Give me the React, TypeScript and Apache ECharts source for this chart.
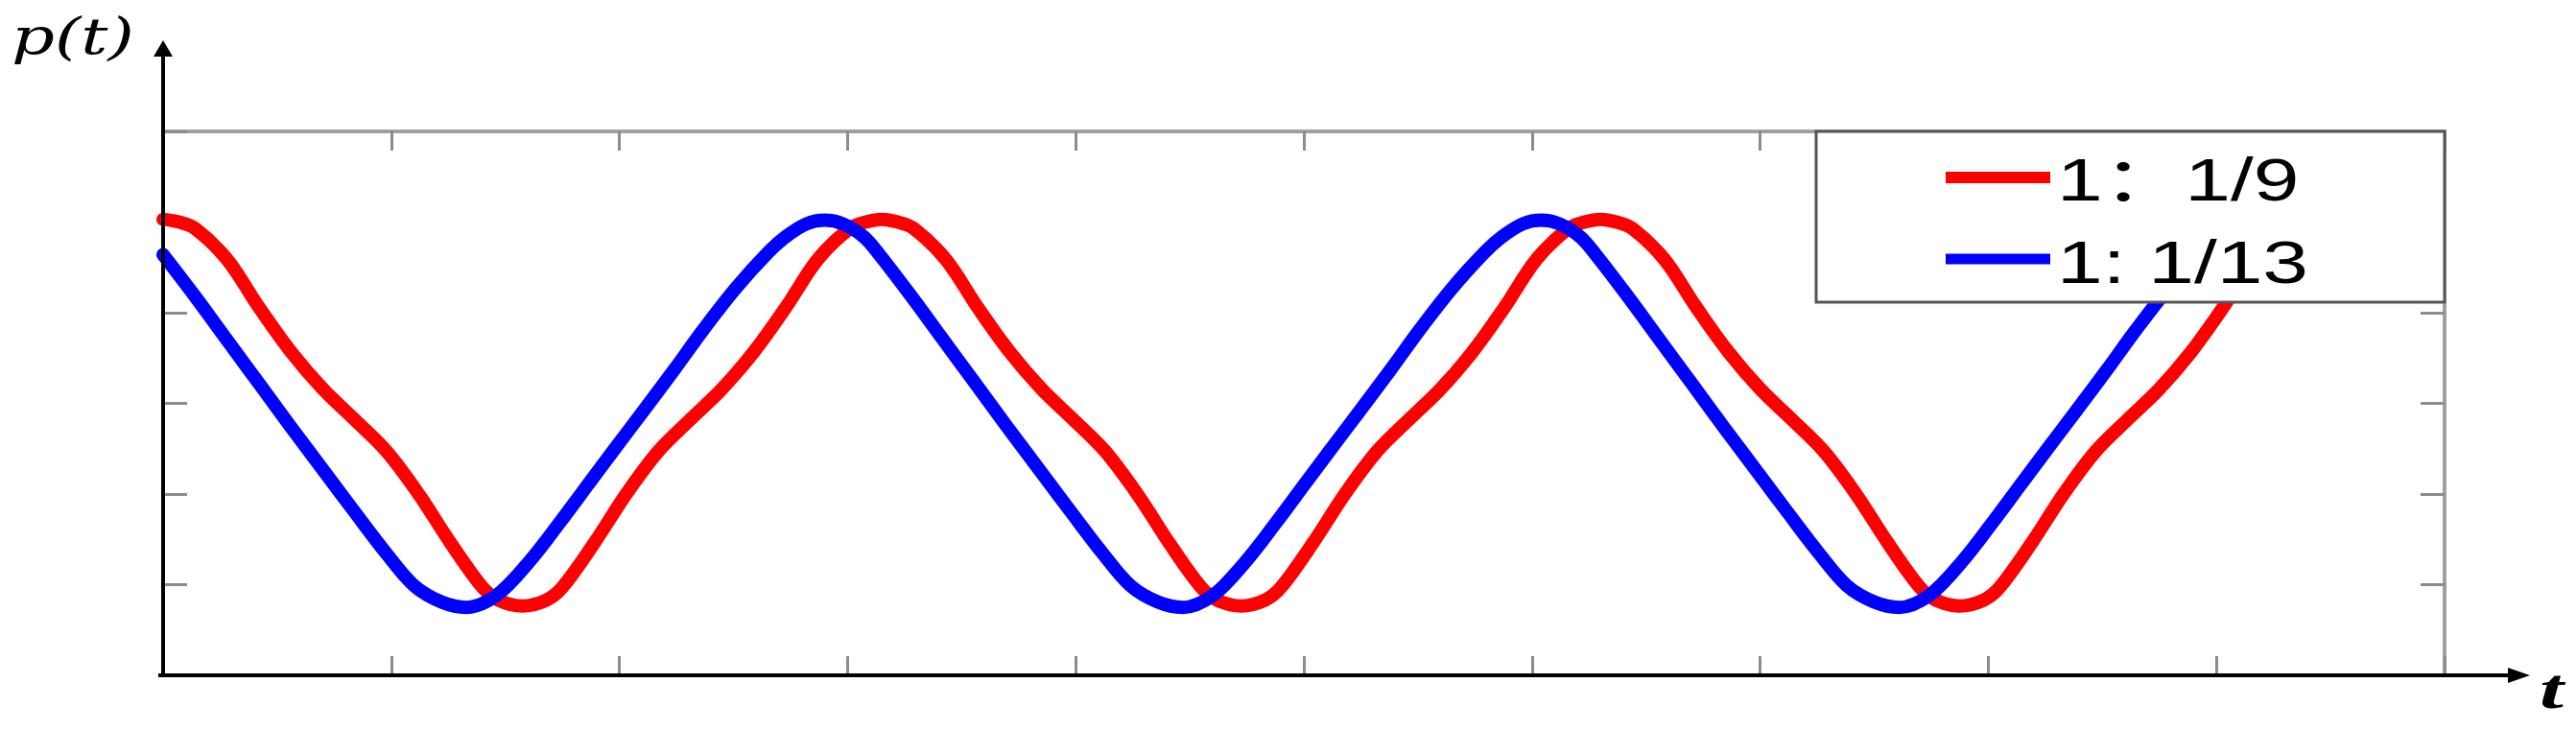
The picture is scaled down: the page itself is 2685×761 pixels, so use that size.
import React, { useEffect, useRef } from "react";
import * as echarts from "echarts";

// Red curve (1：1/9) — time positions and values
const redT = [
  0, 0.07, 0.14, 0.28, 0.42, 0.56, 0.7, 0.84, 0.98, 1.12, 1.26, 1.4, 1.47, 1.575, 1.68, 1.75, 1.89, 2.03, 2.17, 2.31, 2.45, 2.59, 2.73, 2.87, 3.01, 3.08,
  3.15, 3.22, 3.29, 3.43, 3.57, 3.71, 3.85, 3.99, 4.13, 4.27, 4.41, 4.55, 4.62, 4.725, 4.83, 4.9, 5.04, 5.18, 5.32, 5.46, 5.6, 5.74, 5.88, 6.02, 6.16, 6.23,
  6.3, 6.37, 6.44, 6.58, 6.72, 6.86, 7.0, 7.14, 7.28, 7.42, 7.56, 7.7, 7.77, 7.875, 7.98, 8.05, 8.19, 8.33, 8.47, 8.61, 8.75, 8.89, 9.03, 9.17, 9.31, 9.38,
  9.45,
];
const redP = [
  5.03, 5.0, 4.93, 4.59, 4.06, 3.57, 3.16, 2.82, 2.47, 2.0, 1.46, 0.97, 0.83, 0.765, 0.83, 0.97, 1.46, 2.0, 2.47, 2.82, 3.16, 3.57, 4.06, 4.59, 4.93, 5.0,
  5.03, 5.0, 4.93, 4.59, 4.06, 3.57, 3.16, 2.82, 2.47, 2.0, 1.46, 0.97, 0.83, 0.765, 0.83, 0.97, 1.46, 2.0, 2.47, 2.82, 3.16, 3.57, 4.06, 4.59, 4.93, 5.0,
  5.03, 5.0, 4.93, 4.59, 4.06, 3.57, 3.16, 2.82, 2.47, 2.0, 1.46, 0.97, 0.83, 0.765, 0.83, 0.97, 1.46, 2.0, 2.47, 2.82, 3.16, 3.57, 4.06, 4.59, 4.93, 5.0,
  5.03,
];

// Blue curve (1: 1/13)
const blueT = [
  0, 0.14, 0.28, 0.42, 0.56, 0.7, 0.84, 0.98, 1.1, 1.22, 1.33,
  1.46, 1.6, 1.74, 1.87, 1.98, 2.1, 2.24, 2.37, 2.51, 2.65, 2.73, 2.82, 2.9,
  2.98, 3.07, 3.14, 3.28, 3.42, 3.56, 3.7, 3.84, 3.98, 4.12, 4.24, 4.36, 4.47,
  4.6, 4.74, 4.88, 5.01, 5.12, 5.24, 5.38, 5.51, 5.65, 5.79, 5.87, 5.96, 6.04,
  6.12, 6.21, 6.28, 6.42, 6.56, 6.7, 6.84, 6.98, 7.12, 7.26, 7.38, 7.5, 7.61,
  7.74, 7.88, 8.02, 8.15, 8.26, 8.38, 8.52, 8.65, 8.79, 8.93, 9.01, 9.1, 9.18,
  9.26, 9.35, 9.42,
];
const blueP = [
  4.64, 4.18, 3.7, 3.22, 2.74, 2.27, 1.8, 1.34, 0.99, 0.81, 0.75,
  0.88, 1.24, 1.69, 2.13, 2.5, 2.9, 3.37, 3.82, 4.27, 4.66, 4.84, 4.98, 5.02,
  4.98, 4.84, 4.64, 4.18, 3.7, 3.22, 2.74, 2.27, 1.8, 1.34, 0.99, 0.81, 0.75,
  0.88, 1.24, 1.69, 2.13, 2.5, 2.9, 3.37, 3.82, 4.27, 4.66, 4.84, 4.98, 5.02,
  4.98, 4.84, 4.64, 4.18, 3.7, 3.22, 2.74, 2.27, 1.8, 1.34, 0.99, 0.81, 0.75,
  0.88, 1.24, 1.69, 2.13, 2.5, 2.9, 3.37, 3.82, 4.27, 4.66, 4.84, 4.98, 5.02,
  4.98, 4.84, 4.64,
];

const seriesNames = ["1：1/9", "1: 1/13"];
const seriesColors = ["#ff0000", "#0000ff"];
const yAxisLabel = "p(t)";
const xAxisLabel = "t";
const xRange = [0, 10];
const yRange = [0, 6];

export default function App() {
  const ref = useRef<HTMLDivElement>(null);

  useEffect(() => {
    document.body.style.margin = "0";
    const chart = echarts.init(ref.current!, null, { renderer: "svg" });
    const zip = (t: number[], p: number[]) => t.map((x, i) => [x, p[i]]);
    const boxGrey = "#a0a0a0";
    const tickGrey = "#8c8c8c";

    const xAxisBase = (position: string) => ({
      type: "value",
      position,
      min: xRange[0],
      max: xRange[1],
      interval: 1,
      axisLine: { show: true, onZero: false, lineStyle: { color: boxGrey, width: 4 } },
      axisTick: { show: true, inside: true, length: 20, lineStyle: { color: tickGrey, width: 3 } },
      axisLabel: { show: false },
      splitLine: { show: false },
    });
    const yAxisBase = (position: string) => ({
      type: "value",
      position,
      min: yRange[0],
      max: yRange[1],
      interval: 1,
      axisLine: { show: true, onZero: false, lineStyle: { color: boxGrey, width: 4 } },
      axisTick: { show: true, inside: true, length: 25, lineStyle: { color: tickGrey, width: 3 } },
      axisLabel: { show: false },
      splitLine: { show: false },
    });

    const legendFont = "Liberation Sans, Noto Sans CJK SC";

    chart.setOption({
      animation: false,
      backgroundColor: "#ffffff",
      grid: { left: 170, right: 137, top: 137, bottom: 57 },
      xAxis: [xAxisBase("bottom"), xAxisBase("top")],
      yAxis: [yAxisBase("left"), yAxisBase("right")],
      series: [
        {
          type: "line",
          name: seriesNames[0],
          data: zip(redT, redP),
          showSymbol: false,
          smooth: 0.35,
          lineStyle: { color: seriesColors[0], width: 14, cap: "round", join: "round" },
          itemStyle: { color: seriesColors[0] },
          z: 3,
        },
        {
          type: "line",
          name: seriesNames[1],
          data: zip(blueT, blueP),
          showSymbol: false,
          smooth: 0.35,
          lineStyle: { color: seriesColors[1], width: 14, cap: "round", join: "round" },
          itemStyle: { color: seriesColors[1] },
          z: 4,
        },
      ],
      graphic: [
        // black axes with arrows
        { type: "line", z: 50, shape: { x1: 165, y1: 704, x2: 2622, y2: 704 }, style: { stroke: "#000", lineWidth: 4 } },
        { type: "polygon", z: 50, shape: { points: [[2637, 704], [2614, 696], [2614, 712]] }, style: { fill: "#000" } },
        { type: "line", z: 50, shape: { x1: 170, y1: 706, x2: 170, y2: 56 }, style: { stroke: "#000", lineWidth: 4 } },
        { type: "polygon", z: 50, shape: { points: [[170, 42], [160, 59], [180, 59]] }, style: { fill: "#000" } },
        {
          type: "text", z: 50, x: 12, y: 38, scaleX: 1.35,
          style: { text: yAxisLabel, fontSize: 52, fontFamily: "DejaVu Serif", fontStyle: "italic", fill: "#000", align: "left", verticalAlign: "middle" },
        },
        {
          type: "text", z: 50, x: 2647, y: 718, scaleX: 1.5,
          style: { text: xAxisLabel, fontSize: 60, fontFamily: "Liberation Serif", fontStyle: "italic", fontWeight: "bold", fill: "#000", align: "left", verticalAlign: "middle" },
        },
        // legend
        { type: "rect", z: 60, shape: { x: 1893, y: 137, width: 655, height: 178 }, style: { fill: "#fff", stroke: "#555", lineWidth: 3 } },
        { type: "line", z: 61, shape: { x1: 2028, y1: 185, x2: 2137, y2: 185 }, style: { stroke: seriesColors[0], lineWidth: 12 } },
        { type: "line", z: 61, shape: { x1: 2028, y1: 270, x2: 2137, y2: 270 }, style: { stroke: seriesColors[1], lineWidth: 11 } },
        {
          type: "text", z: 61, x: 2144, y: 187, scaleX: 1.36,
          style: { text: seriesNames[0], fontSize: 63, fontFamily: legendFont, fill: "#000", align: "left", verticalAlign: "middle" },
        },
        {
          type: "text", z: 61, x: 2144, y: 273, scaleX: 1.36,
          style: { text: seriesNames[1], fontSize: 63, fontFamily: legendFont, fill: "#000", align: "left", verticalAlign: "middle" },
        },
      ],
    });
    return () => chart.dispose();
  }, []);

  return <div ref={ref} style={{ position: "fixed", left: 0, top: 0, width: 2685, height: 761 }} />;
}
